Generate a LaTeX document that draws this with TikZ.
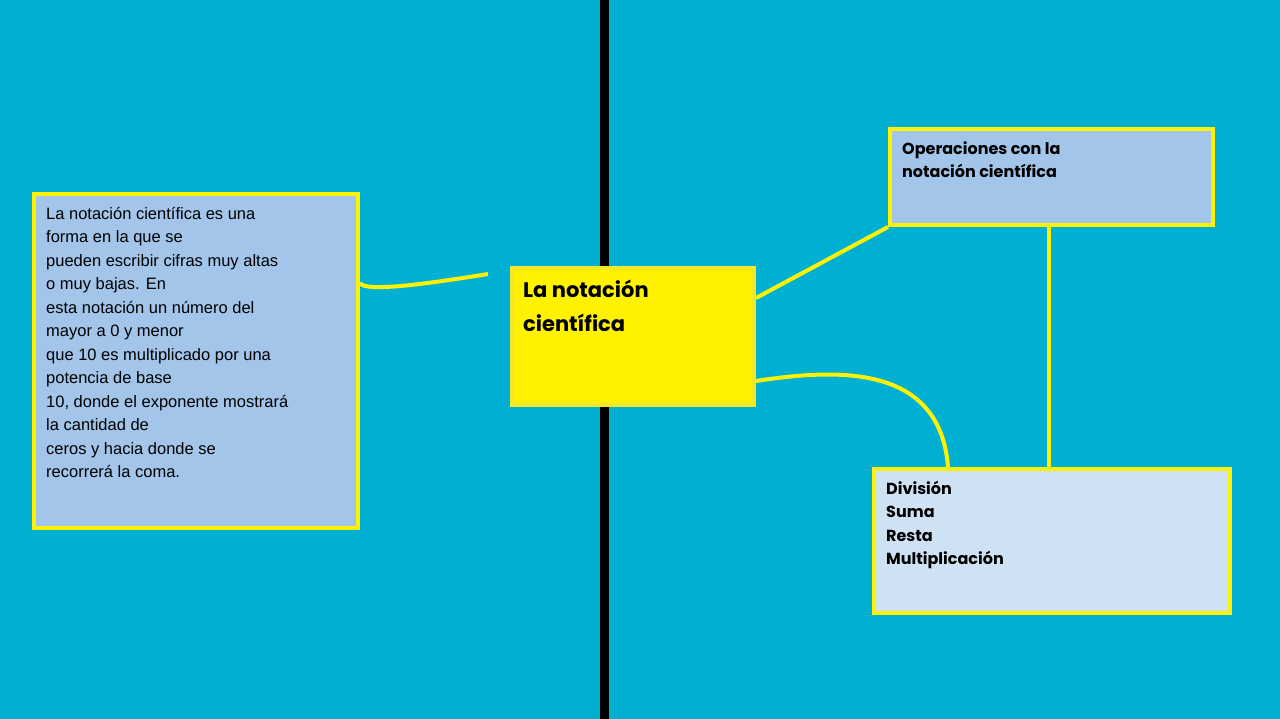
\documentclass[tikz,border=0pt]{standalone}
\usepackage{fontspec}
\setmainfont{Liberation Sans}
\newfontfamily\headfont{Poppins}
\definecolor{bg}{HTML}{00B0D2}
\definecolor{ylw}{HTML}{FFF200}
\definecolor{ylwb}{HTML}{F2E82A}
\definecolor{lblue}{HTML}{A2C5E9}
\definecolor{pblue}{HTML}{CFE2F3}
\tikzset{
  box/.style={draw=ylw,line width=4pt,anchor=north west,inner sep=0pt},
  conn/.style={draw=ylw,line width=4pt},
  txt/.style={anchor=north west,align=left,inner sep=0pt}
}
\begin{document}
\begin{tikzpicture}[x=1pt,y=-1pt]
\fill[bg] (0,0) rectangle (1280,719);
\useasboundingbox (0,0) rectangle (1280,719);
\fill[black] (600,0) rectangle (609,719);
% boxes
\node[box,fill=lblue,minimum width=324pt,minimum height=334pt] (L) at (32,192) {};
\node[box,fill=ylw,draw=ylwb,minimum width=242pt,minimum height=137pt] (C) at (510,266) {};
\node[box,fill=lblue,minimum width=323pt,minimum height=96pt] (T) at (888,127) {};
\node[box,fill=pblue,minimum width=356pt,minimum height=144pt] (B) at (872,467) {};
% texts
\node[txt,font=\fontsize{16.5}{23.5}\selectfont] (Lt) at (46,207) {La notación científica es una\\forma en la que se\\pueden escribir cifras muy altas\\o muy bajas. En\\esta notación un número del\\mayor a 0 y menor\\que 10 es multiplicado por una\\potencia de base\\10, donde el exponente mostrará\\la cantidad de\\ceros y hacia donde se\\recorrerá la coma.};
\node[txt,font=\headfont\bfseries\fontsize{21}{34}\selectfont] (Ct) at (523,280) {La notación\\científica};
\node[txt,font=\headfont\bfseries\fontsize{16}{23}\selectfont] (Tt) at (902,141) {Operaciones con la\\notación científica};
\node[txt,font=\headfont\bfseries\fontsize{16}{23.3}\selectfont] (Bt) at (886,481) {División\\Suma\\Resta\\Multiplicación};
% connectors
\coordinate (Lend) at (488,274);
\draw[conn] (L.east|-0,283) .. controls (365,292) and (420,285) .. (Lend);
\draw[conn] (C.east|-0,298) -- (T.south west);
\draw[conn] (C.east|-0,381) .. controls (840,368) and (940,365) .. (B.north west-|948,0);
\draw[conn] (T.south-|1049,0) -- (B.north-|1049,0);
\end{tikzpicture}
\end{document}
